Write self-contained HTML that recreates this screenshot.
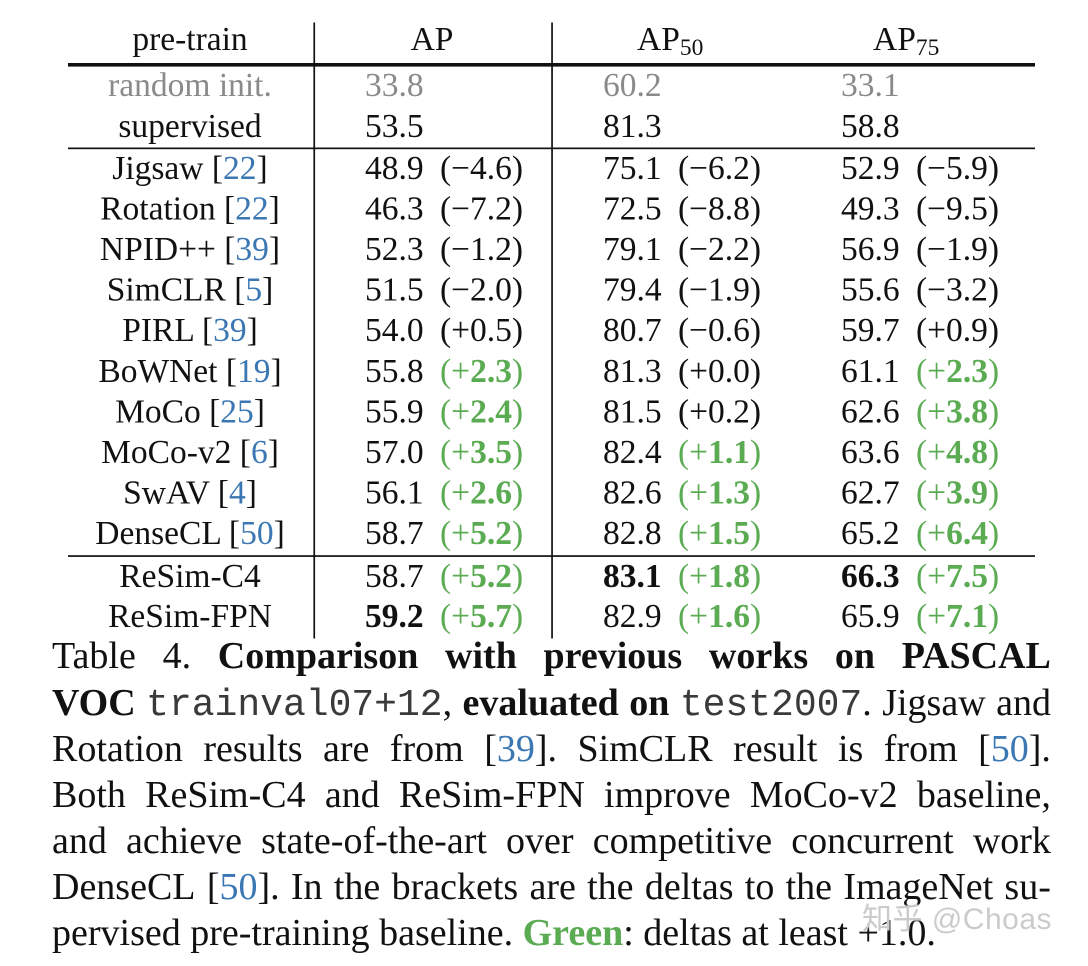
<!DOCTYPE html>
<html>
<head>
<meta charset="utf-8">
<style>
html,body{margin:0;padding:0;background:#fff;}
body{width:1088px;height:966px;position:relative;overflow:hidden;}
.cl{position:absolute;left:52px;width:999px;height:38px;font-family:"Liberation Serif",serif;font-size:38px;line-height:38px;color:#111;display:flex;justify-content:space-between;align-items:baseline;white-space:nowrap;}
.cl > span{display:block;}
.last{position:absolute;left:52px;width:1000px;font-family:"Liberation Serif",serif;font-size:38px;line-height:38px;color:#111;white-space:nowrap;}
.tt{font-family:"Liberation Mono",monospace;font-weight:normal;color:#3a3a3a;}
.bl{color:#3b77b3;}
.gr{color:#5aab52;}
.wm{position:absolute;left:862px;top:905px;font-family:"Liberation Sans","Noto Sans CJK SC",sans-serif;font-size:30px;line-height:30px;color:#cbcbcb;letter-spacing:0.5px;white-space:nowrap;text-shadow:0 0 2px #fff;}
</style>
</head>
<body>
<svg width="1088" height="645" style="position:absolute;left:0;top:0" font-family="'Liberation Serif',serif" font-size="33.5" fill="#111">
  <rect x="68" y="63" width="967" height="3.6" fill="#111"/>
  <rect x="68" y="147.5" width="967" height="1.7" fill="#111"/>
  <rect x="68" y="555.2" width="967" height="1.7" fill="#111"/>
  <rect x="313.4" y="22.5" width="1.7" height="616" fill="#111"/>
  <rect x="551.2" y="22.5" width="1.7" height="616" fill="#111"/>

  <text x="190" y="50" text-anchor="middle">pre-train</text>
  <text x="432" y="50" text-anchor="middle">AP</text>
  <text x="637" y="50">AP<tspan font-size="23.5" dy="5">50</tspan></text>
  <text x="873" y="50">AP<tspan font-size="23.5" dy="5">75</tspan></text>

  <g fill="#8a8a8a">
    <text x="190" y="96" text-anchor="middle">random init.</text>
    <text x="365" y="96">33.8</text>
    <text x="603" y="96">60.2</text>
    <text x="841" y="96">33.1</text>
  </g>
  <text x="190" y="137" text-anchor="middle">supervised</text>
  <text x="365" y="137">53.5</text>
  <text x="603" y="137">81.3</text>
  <text x="841" y="137">58.8</text>

  <text x="190" y="179" text-anchor="middle">Jigsaw [<tspan fill="#3b77b3">22</tspan>]</text>
  <text x="365" y="179">48.9</text><text x="440" y="179">(−4.6)</text>
  <text x="603" y="179">75.1</text><text x="678" y="179">(−6.2)</text>
  <text x="841" y="179">52.9</text><text x="916" y="179">(−5.9)</text>

  <text x="190" y="219.6" text-anchor="middle">Rotation [<tspan fill="#3b77b3">22</tspan>]</text>
  <text x="365" y="219.6">46.3</text><text x="440" y="219.6">(−7.2)</text>
  <text x="603" y="219.6">72.5</text><text x="678" y="219.6">(−8.8)</text>
  <text x="841" y="219.6">49.3</text><text x="916" y="219.6">(−9.5)</text>

  <text x="190" y="260.1" text-anchor="middle">NPID++ [<tspan fill="#3b77b3">39</tspan>]</text>
  <text x="365" y="260.1">52.3</text><text x="440" y="260.1">(−1.2)</text>
  <text x="603" y="260.1">79.1</text><text x="678" y="260.1">(−2.2)</text>
  <text x="841" y="260.1">56.9</text><text x="916" y="260.1">(−1.9)</text>

  <text x="190" y="300.7" text-anchor="middle">SimCLR [<tspan fill="#3b77b3">5</tspan>]</text>
  <text x="365" y="300.7">51.5</text><text x="440" y="300.7">(−2.0)</text>
  <text x="603" y="300.7">79.4</text><text x="678" y="300.7">(−1.9)</text>
  <text x="841" y="300.7">55.6</text><text x="916" y="300.7">(−3.2)</text>

  <text x="190" y="341.2" text-anchor="middle">PIRL [<tspan fill="#3b77b3">39</tspan>]</text>
  <text x="365" y="341.2">54.0</text><text x="440" y="341.2">(+0.5)</text>
  <text x="603" y="341.2">80.7</text><text x="678" y="341.2">(−0.6)</text>
  <text x="841" y="341.2">59.7</text><text x="916" y="341.2">(+0.9)</text>

  <text x="190" y="381.8" text-anchor="middle">BoWNet [<tspan fill="#3b77b3">19</tspan>]</text>
  <text x="365" y="381.8">55.8</text><text x="440" y="381.8" fill="#5aab52">(+<tspan font-weight="bold">2.3</tspan>)</text>
  <text x="603" y="381.8">81.3</text><text x="678" y="381.8">(+0.0)</text>
  <text x="841" y="381.8">61.1</text><text x="916" y="381.8" fill="#5aab52">(+<tspan font-weight="bold">2.3</tspan>)</text>

  <text x="190" y="422.4" text-anchor="middle">MoCo [<tspan fill="#3b77b3">25</tspan>]</text>
  <text x="365" y="422.4">55.9</text><text x="440" y="422.4" fill="#5aab52">(+<tspan font-weight="bold">2.4</tspan>)</text>
  <text x="603" y="422.4">81.5</text><text x="678" y="422.4">(+0.2)</text>
  <text x="841" y="422.4">62.6</text><text x="916" y="422.4" fill="#5aab52">(+<tspan font-weight="bold">3.8</tspan>)</text>

  <text x="190" y="462.9" text-anchor="middle">MoCo-v2 [<tspan fill="#3b77b3">6</tspan>]</text>
  <text x="365" y="462.9">57.0</text><text x="440" y="462.9" fill="#5aab52">(+<tspan font-weight="bold">3.5</tspan>)</text>
  <text x="603" y="462.9">82.4</text><text x="678" y="462.9" fill="#5aab52">(+<tspan font-weight="bold">1.1</tspan>)</text>
  <text x="841" y="462.9">63.6</text><text x="916" y="462.9" fill="#5aab52">(+<tspan font-weight="bold">4.8</tspan>)</text>

  <text x="190" y="503.5" text-anchor="middle">SwAV [<tspan fill="#3b77b3">4</tspan>]</text>
  <text x="365" y="503.5">56.1</text><text x="440" y="503.5" fill="#5aab52">(+<tspan font-weight="bold">2.6</tspan>)</text>
  <text x="603" y="503.5">82.6</text><text x="678" y="503.5" fill="#5aab52">(+<tspan font-weight="bold">1.3</tspan>)</text>
  <text x="841" y="503.5">62.7</text><text x="916" y="503.5" fill="#5aab52">(+<tspan font-weight="bold">3.9</tspan>)</text>

  <text x="190" y="544" text-anchor="middle">DenseCL [<tspan fill="#3b77b3">50</tspan>]</text>
  <text x="365" y="544">58.7</text><text x="440" y="544" fill="#5aab52">(+<tspan font-weight="bold">5.2</tspan>)</text>
  <text x="603" y="544">82.8</text><text x="678" y="544" fill="#5aab52">(+<tspan font-weight="bold">1.5</tspan>)</text>
  <text x="841" y="544">65.2</text><text x="916" y="544" fill="#5aab52">(+<tspan font-weight="bold">6.4</tspan>)</text>

  <text x="190" y="587" text-anchor="middle">ReSim-C4</text>
  <text x="365" y="587">58.7</text><text x="440" y="587" fill="#5aab52">(+<tspan font-weight="bold">5.2</tspan>)</text>
  <text x="603" y="587" font-weight="bold">83.1</text><text x="678" y="587" fill="#5aab52">(+<tspan font-weight="bold">1.8</tspan>)</text>
  <text x="841" y="587" font-weight="bold">66.3</text><text x="916" y="587" fill="#5aab52">(+<tspan font-weight="bold">7.5</tspan>)</text>

  <text x="190" y="627" text-anchor="middle">ReSim-FPN</text>
  <text x="365" y="627" font-weight="bold">59.2</text><text x="440" y="627" fill="#5aab52">(+<tspan font-weight="bold">5.7</tspan>)</text>
  <text x="603" y="627">82.9</text><text x="678" y="627" fill="#5aab52">(+<tspan font-weight="bold">1.6</tspan>)</text>
  <text x="841" y="627">65.9</text><text x="916" y="627" fill="#5aab52">(+<tspan font-weight="bold">7.1</tspan>)</text>
</svg>

<div class="cl" style="top:637px"><span>Table</span><span>4.</span><span><b>Comparison</b></span><span><b>with</b></span><span><b>previous</b></span><span><b>works</b></span><span><b>on</b></span><span><b>PASCAL</b></span></div>
<div class="cl" style="top:684px"><span><b>VOC</b></span><span><span class="tt">trainval07+12</span>,</span><span><b>evaluated</b></span><span><b>on</b></span><span><span class="tt">test2007</span>.</span><span>Jigsaw</span><span>and</span></div>
<div class="cl" style="top:730px"><span>Rotation</span><span>results</span><span>are</span><span>from</span><span>[<span class="bl">39</span>].</span><span>SimCLR</span><span>result</span><span>is</span><span>from</span><span>[<span class="bl">50</span>].</span></div>
<div class="cl" style="top:776px"><span>Both</span><span>ReSim-C4</span><span>and</span><span>ReSim-FPN</span><span>improve</span><span>MoCo-v2</span><span>baseline,</span></div>
<div class="cl" style="top:822px"><span>and</span><span>achieve</span><span>state-of-the-art</span><span>over</span><span>competitive</span><span>concurrent</span><span>work</span></div>
<div class="cl" style="top:868px"><span>DenseCL</span><span>[<span class="bl">50</span>].</span><span>In</span><span>the</span><span>brackets</span><span>are</span><span>the</span><span>deltas</span><span>to</span><span>the</span><span>ImageNet</span><span>su-</span></div>
<div class="last" style="top:914px">pervised pre-training baseline. <b class="gr">Green</b>: deltas at least +1.0.</div>

<div class="wm">知乎 @Choas</div>
</body>
</html>
